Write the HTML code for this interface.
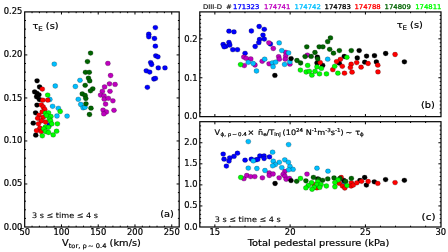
<!DOCTYPE html>
<html><head><meta charset="utf-8"><title>DIII-D confinement</title>
<style>
html,body{margin:0;padding:0;background:#fff;}
body{width:448px;height:252px;overflow:hidden;}
svg{display:block;font-family:"DejaVu Sans","Liberation Sans",sans-serif;}
</style></head><body>
<svg width="448" height="252" viewBox="0 0 448 252">
<rect width="448" height="252" fill="#fff"/>
<rect x="24.70" y="11.90" width="154.50" height="215.10" fill="none" stroke="#000" stroke-width="1.2"/>
<path d="M61.46 227.00v-2.60M61.46 11.90v2.60M98.22 227.00v-2.60M98.22 11.90v2.60M134.98 227.00v-2.60M134.98 11.90v2.60M171.74 227.00v-2.60M171.74 11.90v2.60M32.05 227.00v-1.30M32.05 11.90v1.30M39.40 227.00v-1.30M39.40 11.90v1.30M46.76 227.00v-1.30M46.76 11.90v1.30M54.11 227.00v-1.30M54.11 11.90v1.30M68.81 227.00v-1.30M68.81 11.90v1.30M76.16 227.00v-1.30M76.16 11.90v1.30M83.52 227.00v-1.30M83.52 11.90v1.30M90.87 227.00v-1.30M90.87 11.90v1.30M105.57 227.00v-1.30M105.57 11.90v1.30M112.92 227.00v-1.30M112.92 11.90v1.30M120.28 227.00v-1.30M120.28 11.90v1.30M127.63 227.00v-1.30M127.63 11.90v1.30M142.33 227.00v-1.30M142.33 11.90v1.30M149.68 227.00v-1.30M149.68 11.90v1.30M157.04 227.00v-1.30M157.04 11.90v1.30M164.39 227.00v-1.30M164.39 11.90v1.30M24.70 183.98h2.60M179.20 183.98h-2.60M24.70 140.96h2.60M179.20 140.96h-2.60M24.70 97.94h2.60M179.20 97.94h-2.60M24.70 54.92h2.60M179.20 54.92h-2.60M24.70 218.40h1.30M179.20 218.40h-1.30M24.70 209.79h1.30M179.20 209.79h-1.30M24.70 201.19h1.30M179.20 201.19h-1.30M24.70 192.58h1.30M179.20 192.58h-1.30M24.70 175.38h1.30M179.20 175.38h-1.30M24.70 166.77h1.30M179.20 166.77h-1.30M24.70 158.17h1.30M179.20 158.17h-1.30M24.70 149.56h1.30M179.20 149.56h-1.30M24.70 132.36h1.30M179.20 132.36h-1.30M24.70 123.75h1.30M179.20 123.75h-1.30M24.70 115.15h1.30M179.20 115.15h-1.30M24.70 106.54h1.30M179.20 106.54h-1.30M24.70 89.34h1.30M179.20 89.34h-1.30M24.70 80.73h1.30M179.20 80.73h-1.30M24.70 72.13h1.30M179.20 72.13h-1.30M24.70 63.52h1.30M179.20 63.52h-1.30M24.70 46.32h1.30M179.20 46.32h-1.30M24.70 37.71h1.30M179.20 37.71h-1.30M24.70 29.11h1.30M179.20 29.11h-1.30M24.70 20.50h1.30M179.20 20.50h-1.30" stroke="#000" stroke-width="1" fill="none"/>
<g fill="#0000ff" stroke="#000" stroke-opacity="0.75" stroke-width="0.3">
<ellipse cx="49.5" cy="124.8" rx="2.54" ry="2.40"/>
<ellipse cx="155.4" cy="27.6" rx="2.54" ry="2.40"/>
<ellipse cx="148.8" cy="34.2" rx="2.54" ry="2.40"/>
<ellipse cx="148.8" cy="36.8" rx="2.54" ry="2.40"/>
<ellipse cx="154.5" cy="38.5" rx="2.54" ry="2.40"/>
<ellipse cx="155.4" cy="46.2" rx="2.54" ry="2.40"/>
<ellipse cx="155.8" cy="55.8" rx="2.54" ry="2.40"/>
<ellipse cx="157.9" cy="56.8" rx="2.54" ry="2.40"/>
<ellipse cx="150.7" cy="62.6" rx="2.54" ry="2.40"/>
<ellipse cx="151.6" cy="64.5" rx="2.54" ry="2.40"/>
<ellipse cx="158.3" cy="67.9" rx="2.54" ry="2.40"/>
<ellipse cx="165.0" cy="67.9" rx="2.54" ry="2.40"/>
<ellipse cx="146.3" cy="70.8" rx="2.54" ry="2.40"/>
<ellipse cx="149.7" cy="72.1" rx="2.54" ry="2.40"/>
<ellipse cx="153.9" cy="79.0" rx="2.54" ry="2.40"/>
<ellipse cx="155.4" cy="78.4" rx="2.54" ry="2.40"/>
<ellipse cx="147.4" cy="87.3" rx="2.54" ry="2.40"/>
</g>
<g fill="#bf00bf" stroke="#000" stroke-opacity="0.75" stroke-width="0.3">
<ellipse cx="107.9" cy="63.4" rx="2.54" ry="2.40"/>
<ellipse cx="110.6" cy="75.5" rx="2.54" ry="2.40"/>
<ellipse cx="109.5" cy="83.8" rx="2.54" ry="2.40"/>
<ellipse cx="115.1" cy="84.4" rx="2.54" ry="2.40"/>
<ellipse cx="104.6" cy="86.9" rx="2.54" ry="2.40"/>
<ellipse cx="102.4" cy="91.3" rx="2.54" ry="2.40"/>
<ellipse cx="110.0" cy="91.3" rx="2.54" ry="2.40"/>
<ellipse cx="100.6" cy="95.1" rx="2.54" ry="2.40"/>
<ellipse cx="104.0" cy="95.8" rx="2.54" ry="2.40"/>
<ellipse cx="104.3" cy="99.2" rx="2.54" ry="2.40"/>
<ellipse cx="108.3" cy="98.3" rx="2.54" ry="2.40"/>
<ellipse cx="112.9" cy="100.8" rx="2.54" ry="2.40"/>
<ellipse cx="105.6" cy="104.1" rx="2.54" ry="2.40"/>
<ellipse cx="103.1" cy="110.1" rx="2.54" ry="2.40"/>
<ellipse cx="106.4" cy="112.0" rx="2.54" ry="2.40"/>
<ellipse cx="114.0" cy="110.3" rx="2.54" ry="2.40"/>
<ellipse cx="103.8" cy="113.9" rx="2.54" ry="2.40"/>
</g>
<g fill="#00bfff" stroke="#000" stroke-opacity="0.75" stroke-width="0.3">
<ellipse cx="54.3" cy="64.1" rx="2.54" ry="2.40"/>
<ellipse cx="55.3" cy="86.0" rx="2.54" ry="2.40"/>
<ellipse cx="49.9" cy="99.5" rx="2.54" ry="2.40"/>
<ellipse cx="52.6" cy="106.3" rx="2.54" ry="2.40"/>
<ellipse cx="58.4" cy="108.3" rx="2.54" ry="2.40"/>
<ellipse cx="57.0" cy="116.0" rx="2.54" ry="2.40"/>
<ellipse cx="67.1" cy="116.1" rx="2.54" ry="2.40"/>
<ellipse cx="75.4" cy="86.5" rx="2.54" ry="2.40"/>
<ellipse cx="80.0" cy="80.3" rx="2.54" ry="2.40"/>
<ellipse cx="78.3" cy="99.3" rx="2.54" ry="2.40"/>
<ellipse cx="80.8" cy="104.5" rx="2.54" ry="2.40"/>
<ellipse cx="83.1" cy="107.8" rx="2.54" ry="2.40"/>
<ellipse cx="85.0" cy="107.3" rx="2.54" ry="2.40"/>
</g>
<g fill="#000000" stroke="#000" stroke-opacity="0.75" stroke-width="0.3">
<ellipse cx="37.1" cy="80.8" rx="2.54" ry="2.40"/>
<ellipse cx="39.6" cy="87.0" rx="2.54" ry="2.40"/>
<ellipse cx="34.7" cy="91.9" rx="2.54" ry="2.40"/>
<ellipse cx="37.0" cy="93.3" rx="2.54" ry="2.40"/>
<ellipse cx="39.0" cy="94.8" rx="2.54" ry="2.40"/>
<ellipse cx="36.6" cy="96.8" rx="2.54" ry="2.40"/>
<ellipse cx="39.4" cy="99.5" rx="2.54" ry="2.40"/>
<ellipse cx="37.0" cy="105.1" rx="2.54" ry="2.40"/>
<ellipse cx="35.6" cy="112.8" rx="2.54" ry="2.40"/>
<ellipse cx="33.3" cy="123.2" rx="2.54" ry="2.40"/>
<ellipse cx="35.8" cy="135.2" rx="2.54" ry="2.40"/>
</g>
<g fill="#ff0000" stroke="#000" stroke-opacity="0.75" stroke-width="0.3">
<ellipse cx="42.3" cy="89.1" rx="2.54" ry="2.40"/>
<ellipse cx="42.8" cy="100.2" rx="2.54" ry="2.40"/>
<ellipse cx="47.8" cy="100.2" rx="2.54" ry="2.40"/>
<ellipse cx="41.3" cy="104.8" rx="2.54" ry="2.40"/>
<ellipse cx="43.2" cy="106.9" rx="2.54" ry="2.40"/>
<ellipse cx="44.7" cy="109.3" rx="2.54" ry="2.40"/>
<ellipse cx="42.3" cy="111.8" rx="2.54" ry="2.40"/>
<ellipse cx="39.0" cy="115.1" rx="2.54" ry="2.40"/>
<ellipse cx="43.2" cy="117.4" rx="2.54" ry="2.40"/>
<ellipse cx="37.7" cy="118.3" rx="2.54" ry="2.40"/>
<ellipse cx="41.3" cy="120.9" rx="2.54" ry="2.40"/>
<ellipse cx="45.6" cy="122.1" rx="2.54" ry="2.40"/>
<ellipse cx="38.5" cy="123.8" rx="2.54" ry="2.40"/>
<ellipse cx="39.9" cy="128.2" rx="2.54" ry="2.40"/>
<ellipse cx="36.6" cy="130.7" rx="2.54" ry="2.40"/>
<ellipse cx="41.3" cy="131.5" rx="2.54" ry="2.40"/>
</g>
<g fill="#006400" stroke="#000" stroke-opacity="0.75" stroke-width="0.3">
<ellipse cx="90.6" cy="53.1" rx="2.54" ry="2.40"/>
<ellipse cx="87.5" cy="61.6" rx="2.54" ry="2.40"/>
<ellipse cx="85.5" cy="72.3" rx="2.54" ry="2.40"/>
<ellipse cx="89.3" cy="72.3" rx="2.54" ry="2.40"/>
<ellipse cx="88.5" cy="78.1" rx="2.54" ry="2.40"/>
<ellipse cx="89.7" cy="80.9" rx="2.54" ry="2.40"/>
<ellipse cx="85.2" cy="85.3" rx="2.54" ry="2.40"/>
<ellipse cx="92.8" cy="88.8" rx="2.54" ry="2.40"/>
<ellipse cx="90.5" cy="90.8" rx="2.54" ry="2.40"/>
<ellipse cx="82.3" cy="93.9" rx="2.54" ry="2.40"/>
<ellipse cx="85.1" cy="95.5" rx="2.54" ry="2.40"/>
<ellipse cx="85.8" cy="98.5" rx="2.54" ry="2.40"/>
<ellipse cx="86.0" cy="103.8" rx="2.54" ry="2.40"/>
<ellipse cx="91.0" cy="108.2" rx="2.54" ry="2.40"/>
<ellipse cx="89.5" cy="114.5" rx="2.54" ry="2.40"/>
</g>
<g fill="#00ff00" stroke="#000" stroke-opacity="0.75" stroke-width="0.3">
<ellipse cx="47.7" cy="95.1" rx="2.54" ry="2.40"/>
<ellipse cx="60.2" cy="111.5" rx="2.54" ry="2.40"/>
<ellipse cx="45.6" cy="113.2" rx="2.54" ry="2.40"/>
<ellipse cx="48.5" cy="112.8" rx="2.54" ry="2.40"/>
<ellipse cx="46.6" cy="115.5" rx="2.54" ry="2.40"/>
<ellipse cx="50.9" cy="116.5" rx="2.54" ry="2.40"/>
<ellipse cx="49.4" cy="119.3" rx="2.54" ry="2.40"/>
<ellipse cx="50.6" cy="120.9" rx="2.54" ry="2.40"/>
<ellipse cx="51.8" cy="123.9" rx="2.54" ry="2.40"/>
<ellipse cx="57.4" cy="123.8" rx="2.54" ry="2.40"/>
<ellipse cx="45.6" cy="126.8" rx="2.54" ry="2.40"/>
<ellipse cx="48.5" cy="127.3" rx="2.54" ry="2.40"/>
<ellipse cx="43.7" cy="128.8" rx="2.54" ry="2.40"/>
<ellipse cx="56.6" cy="131.2" rx="2.54" ry="2.40"/>
<ellipse cx="45.6" cy="131.5" rx="2.54" ry="2.40"/>
<ellipse cx="48.5" cy="132.5" rx="2.54" ry="2.40"/>
<ellipse cx="53.2" cy="134.9" rx="2.54" ry="2.40"/>
<ellipse cx="42.3" cy="135.8" rx="2.54" ry="2.40"/>
</g>
<rect x="199.80" y="11.90" width="241.20" height="104.75" fill="none" stroke="#000" stroke-width="1.2"/>
<path d="M214.86 116.65v-2.60M214.86 11.90v2.60M290.14 116.65v-2.60M290.14 11.90v2.60M365.42 116.65v-2.60M365.42 11.90v2.60M229.91 116.65v-1.30M229.91 11.90v1.30M244.97 116.65v-1.30M244.97 11.90v1.30M260.02 116.65v-1.30M260.02 11.90v1.30M275.08 116.65v-1.30M275.08 11.90v1.30M305.19 116.65v-1.30M305.19 11.90v1.30M320.25 116.65v-1.30M320.25 11.90v1.30M335.30 116.65v-1.30M335.30 11.90v1.30M350.36 116.65v-1.30M350.36 11.90v1.30M380.47 116.65v-1.30M380.47 11.90v1.30M395.53 116.65v-1.30M395.53 11.90v1.30M410.58 116.65v-1.30M410.58 11.90v1.30M425.64 116.65v-1.30M425.64 11.90v1.30M199.80 77.75h2.60M441.00 77.75h-2.60M199.80 38.85h2.60M441.00 38.85h-2.60M199.80 112.76h1.30M441.00 112.76h-1.30M199.80 108.87h1.30M441.00 108.87h-1.30M199.80 104.98h1.30M441.00 104.98h-1.30M199.80 101.09h1.30M441.00 101.09h-1.30M199.80 97.20h1.30M441.00 97.20h-1.30M199.80 93.31h1.30M441.00 93.31h-1.30M199.80 89.42h1.30M441.00 89.42h-1.30M199.80 85.53h1.30M441.00 85.53h-1.30M199.80 81.64h1.30M441.00 81.64h-1.30M199.80 73.86h1.30M441.00 73.86h-1.30M199.80 69.97h1.30M441.00 69.97h-1.30M199.80 66.08h1.30M441.00 66.08h-1.30M199.80 62.19h1.30M441.00 62.19h-1.30M199.80 58.30h1.30M441.00 58.30h-1.30M199.80 54.41h1.30M441.00 54.41h-1.30M199.80 50.52h1.30M441.00 50.52h-1.30M199.80 46.63h1.30M441.00 46.63h-1.30M199.80 42.74h1.30M441.00 42.74h-1.30M199.80 34.96h1.30M441.00 34.96h-1.30M199.80 31.07h1.30M441.00 31.07h-1.30M199.80 27.18h1.30M441.00 27.18h-1.30M199.80 23.29h1.30M441.00 23.29h-1.30M199.80 19.40h1.30M441.00 19.40h-1.30M199.80 15.51h1.30M441.00 15.51h-1.30" stroke="#000" stroke-width="1" fill="none"/>
<g fill="#0000ff" stroke="#000" stroke-opacity="0.75" stroke-width="0.3">
<ellipse cx="229.0" cy="31.2" rx="2.54" ry="2.40"/>
<ellipse cx="234.0" cy="31.9" rx="2.54" ry="2.40"/>
<ellipse cx="251.4" cy="31.0" rx="2.54" ry="2.40"/>
<ellipse cx="229.0" cy="42.4" rx="2.54" ry="2.40"/>
<ellipse cx="223.2" cy="44.5" rx="2.54" ry="2.40"/>
<ellipse cx="229.8" cy="45.0" rx="2.54" ry="2.40"/>
<ellipse cx="226.0" cy="46.3" rx="2.54" ry="2.40"/>
<ellipse cx="224.1" cy="46.8" rx="2.54" ry="2.40"/>
<ellipse cx="232.8" cy="49.7" rx="2.54" ry="2.40"/>
<ellipse cx="237.5" cy="49.7" rx="2.54" ry="2.40"/>
<ellipse cx="255.2" cy="46.5" rx="2.54" ry="2.40"/>
<ellipse cx="245.1" cy="53.3" rx="2.54" ry="2.40"/>
<ellipse cx="259.2" cy="26.5" rx="2.54" ry="2.40"/>
<ellipse cx="264.3" cy="29.3" rx="2.54" ry="2.40"/>
<ellipse cx="263.0" cy="35.1" rx="2.54" ry="2.40"/>
<ellipse cx="259.6" cy="39.5" rx="2.54" ry="2.40"/>
<ellipse cx="264.3" cy="39.1" rx="2.54" ry="2.40"/>
<ellipse cx="258.8" cy="42.7" rx="2.54" ry="2.40"/>
<ellipse cx="270.4" cy="44.0" rx="2.54" ry="2.40"/>
</g>
<g fill="#bf00bf" stroke="#000" stroke-opacity="0.75" stroke-width="0.3">
<ellipse cx="268.9" cy="42.8" rx="2.54" ry="2.40"/>
<ellipse cx="273.3" cy="48.5" rx="2.54" ry="2.40"/>
<ellipse cx="243.8" cy="57.1" rx="2.54" ry="2.40"/>
<ellipse cx="246.3" cy="58.4" rx="2.54" ry="2.40"/>
<ellipse cx="250.8" cy="58.9" rx="2.54" ry="2.40"/>
<ellipse cx="244.3" cy="65.6" rx="2.54" ry="2.40"/>
<ellipse cx="255.0" cy="65.0" rx="2.54" ry="2.40"/>
<ellipse cx="285.7" cy="52.3" rx="2.54" ry="2.40"/>
<ellipse cx="278.7" cy="56.7" rx="2.54" ry="2.40"/>
<ellipse cx="279.3" cy="59.2" rx="2.54" ry="2.40"/>
<ellipse cx="285.7" cy="56.1" rx="2.54" ry="2.40"/>
<ellipse cx="285.3" cy="59.2" rx="2.54" ry="2.40"/>
<ellipse cx="262.2" cy="61.3" rx="2.54" ry="2.40"/>
<ellipse cx="269.1" cy="63.8" rx="2.54" ry="2.40"/>
<ellipse cx="289.9" cy="64.2" rx="2.54" ry="2.40"/>
<ellipse cx="307.4" cy="55.1" rx="2.54" ry="2.40"/>
</g>
<g fill="#00bfff" stroke="#000" stroke-opacity="0.75" stroke-width="0.3">
<ellipse cx="279.2" cy="42.9" rx="2.54" ry="2.40"/>
<ellipse cx="248.3" cy="62.3" rx="2.54" ry="2.40"/>
<ellipse cx="253.2" cy="63.5" rx="2.54" ry="2.40"/>
<ellipse cx="256.5" cy="71.0" rx="2.54" ry="2.40"/>
<ellipse cx="281.8" cy="50.6" rx="2.54" ry="2.40"/>
<ellipse cx="288.6" cy="52.9" rx="2.54" ry="2.40"/>
<ellipse cx="264.7" cy="59.2" rx="2.54" ry="2.40"/>
<ellipse cx="272.5" cy="62.8" rx="2.54" ry="2.40"/>
<ellipse cx="275.6" cy="62.2" rx="2.54" ry="2.40"/>
<ellipse cx="273.1" cy="66.7" rx="2.54" ry="2.40"/>
<ellipse cx="284.6" cy="64.4" rx="2.54" ry="2.40"/>
<ellipse cx="289.9" cy="61.9" rx="2.54" ry="2.40"/>
<ellipse cx="327.7" cy="59.2" rx="2.54" ry="2.40"/>
</g>
<g fill="#000000" stroke="#000" stroke-opacity="0.75" stroke-width="0.3">
<ellipse cx="291.1" cy="58.6" rx="2.54" ry="2.40"/>
<ellipse cx="274.9" cy="75.4" rx="2.54" ry="2.40"/>
<ellipse cx="317.4" cy="57.2" rx="2.54" ry="2.40"/>
<ellipse cx="317.0" cy="63.1" rx="2.54" ry="2.40"/>
<ellipse cx="322.7" cy="65.4" rx="2.54" ry="2.40"/>
<ellipse cx="339.3" cy="63.2" rx="2.54" ry="2.40"/>
<ellipse cx="344.3" cy="56.5" rx="2.54" ry="2.40"/>
<ellipse cx="359.2" cy="50.6" rx="2.54" ry="2.40"/>
<ellipse cx="385.7" cy="53.5" rx="2.54" ry="2.40"/>
<ellipse cx="366.6" cy="56.1" rx="2.54" ry="2.40"/>
<ellipse cx="374.5" cy="55.7" rx="2.54" ry="2.40"/>
<ellipse cx="357.3" cy="58.0" rx="2.54" ry="2.40"/>
<ellipse cx="364.8" cy="62.2" rx="2.54" ry="2.40"/>
<ellipse cx="376.4" cy="62.0" rx="2.54" ry="2.40"/>
<ellipse cx="404.4" cy="61.8" rx="2.54" ry="2.40"/>
</g>
<g fill="#ff0000" stroke="#000" stroke-opacity="0.75" stroke-width="0.3">
<ellipse cx="320.2" cy="62.6" rx="2.54" ry="2.40"/>
<ellipse cx="340.4" cy="59.3" rx="2.54" ry="2.40"/>
<ellipse cx="336.6" cy="61.6" rx="2.54" ry="2.40"/>
<ellipse cx="332.8" cy="69.7" rx="2.54" ry="2.40"/>
<ellipse cx="342.3" cy="66.3" rx="2.54" ry="2.40"/>
<ellipse cx="344.5" cy="73.2" rx="2.54" ry="2.40"/>
<ellipse cx="351.2" cy="64.2" rx="2.54" ry="2.40"/>
<ellipse cx="350.4" cy="67.6" rx="2.54" ry="2.40"/>
<ellipse cx="352.1" cy="72.2" rx="2.54" ry="2.40"/>
<ellipse cx="356.7" cy="62.6" rx="2.54" ry="2.40"/>
<ellipse cx="361.1" cy="67.2" rx="2.54" ry="2.40"/>
<ellipse cx="368.1" cy="63.5" rx="2.54" ry="2.40"/>
<ellipse cx="377.8" cy="65.2" rx="2.54" ry="2.40"/>
<ellipse cx="378.0" cy="71.9" rx="2.54" ry="2.40"/>
<ellipse cx="395.1" cy="54.5" rx="2.54" ry="2.40"/>
</g>
<g fill="#006400" stroke="#000" stroke-opacity="0.75" stroke-width="0.3">
<ellipse cx="330.5" cy="37.9" rx="2.54" ry="2.40"/>
<ellipse cx="327.7" cy="41.7" rx="2.54" ry="2.40"/>
<ellipse cx="306.8" cy="46.8" rx="2.54" ry="2.40"/>
<ellipse cx="319.2" cy="46.8" rx="2.54" ry="2.40"/>
<ellipse cx="322.9" cy="46.8" rx="2.54" ry="2.40"/>
<ellipse cx="329.7" cy="49.3" rx="2.54" ry="2.40"/>
<ellipse cx="333.5" cy="53.2" rx="2.54" ry="2.40"/>
<ellipse cx="339.4" cy="50.6" rx="2.54" ry="2.40"/>
<ellipse cx="351.3" cy="50.6" rx="2.54" ry="2.40"/>
<ellipse cx="315.0" cy="52.5" rx="2.54" ry="2.40"/>
<ellipse cx="311.2" cy="56.4" rx="2.54" ry="2.40"/>
<ellipse cx="305.1" cy="56.6" rx="2.54" ry="2.40"/>
<ellipse cx="317.7" cy="58.9" rx="2.54" ry="2.40"/>
<ellipse cx="297.0" cy="60.5" rx="2.54" ry="2.40"/>
<ellipse cx="300.6" cy="63.0" rx="2.54" ry="2.40"/>
</g>
<g fill="#00ff00" stroke="#000" stroke-opacity="0.75" stroke-width="0.3">
<ellipse cx="240.6" cy="64.6" rx="2.54" ry="2.40"/>
<ellipse cx="346.9" cy="57.3" rx="2.54" ry="2.40"/>
<ellipse cx="307.7" cy="65.4" rx="2.54" ry="2.40"/>
<ellipse cx="317.0" cy="66.9" rx="2.54" ry="2.40"/>
<ellipse cx="321.4" cy="68.4" rx="2.54" ry="2.40"/>
<ellipse cx="300.4" cy="70.1" rx="2.54" ry="2.40"/>
<ellipse cx="306.2" cy="72.0" rx="2.54" ry="2.40"/>
<ellipse cx="309.3" cy="71.3" rx="2.54" ry="2.40"/>
<ellipse cx="315.0" cy="71.3" rx="2.54" ry="2.40"/>
<ellipse cx="311.9" cy="75.2" rx="2.54" ry="2.40"/>
<ellipse cx="319.5" cy="73.9" rx="2.54" ry="2.40"/>
<ellipse cx="326.5" cy="73.9" rx="2.54" ry="2.40"/>
<ellipse cx="334.7" cy="66.3" rx="2.54" ry="2.40"/>
<ellipse cx="337.9" cy="73.2" rx="2.54" ry="2.40"/>
</g>
<rect x="199.80" y="121.70" width="241.20" height="105.30" fill="none" stroke="#000" stroke-width="1.2"/>
<path d="M214.86 227.00v-2.60M214.86 121.70v2.60M290.14 227.00v-2.60M290.14 121.70v2.60M365.42 227.00v-2.60M365.42 121.70v2.60M229.91 227.00v-1.30M229.91 121.70v1.30M244.97 227.00v-1.30M244.97 121.70v1.30M260.02 227.00v-1.30M260.02 121.70v1.30M275.08 227.00v-1.30M275.08 121.70v1.30M305.19 227.00v-1.30M305.19 121.70v1.30M320.25 227.00v-1.30M320.25 121.70v1.30M335.30 227.00v-1.30M335.30 121.70v1.30M350.36 227.00v-1.30M350.36 121.70v1.30M380.47 227.00v-1.30M380.47 121.70v1.30M395.53 227.00v-1.30M395.53 121.70v1.30M410.58 227.00v-1.30M410.58 121.70v1.30M425.64 227.00v-1.30M425.64 121.70v1.30M199.80 205.94h2.60M441.00 205.94h-2.60M199.80 184.88h2.60M441.00 184.88h-2.60M199.80 163.82h2.60M441.00 163.82h-2.60M199.80 142.76h2.60M441.00 142.76h-2.60M199.80 222.79h1.30M441.00 222.79h-1.30M199.80 218.58h1.30M441.00 218.58h-1.30M199.80 214.36h1.30M441.00 214.36h-1.30M199.80 210.15h1.30M441.00 210.15h-1.30M199.80 201.73h1.30M441.00 201.73h-1.30M199.80 197.52h1.30M441.00 197.52h-1.30M199.80 193.30h1.30M441.00 193.30h-1.30M199.80 189.09h1.30M441.00 189.09h-1.30M199.80 180.67h1.30M441.00 180.67h-1.30M199.80 176.46h1.30M441.00 176.46h-1.30M199.80 172.24h1.30M441.00 172.24h-1.30M199.80 168.03h1.30M441.00 168.03h-1.30M199.80 159.61h1.30M441.00 159.61h-1.30M199.80 155.40h1.30M441.00 155.40h-1.30M199.80 151.18h1.30M441.00 151.18h-1.30M199.80 146.97h1.30M441.00 146.97h-1.30M199.80 138.55h1.30M441.00 138.55h-1.30M199.80 134.34h1.30M441.00 134.34h-1.30M199.80 130.12h1.30M441.00 130.12h-1.30M199.80 125.91h1.30M441.00 125.91h-1.30" stroke="#000" stroke-width="1" fill="none"/>
<g fill="#0000ff" stroke="#000" stroke-opacity="0.75" stroke-width="0.3">
<ellipse cx="223.2" cy="154.1" rx="2.54" ry="2.40"/>
<ellipse cx="237.5" cy="153.2" rx="2.54" ry="2.40"/>
<ellipse cx="234.0" cy="156.4" rx="2.54" ry="2.40"/>
<ellipse cx="229.8" cy="157.9" rx="2.54" ry="2.40"/>
<ellipse cx="224.1" cy="159.2" rx="2.54" ry="2.40"/>
<ellipse cx="229.0" cy="161.1" rx="2.54" ry="2.40"/>
<ellipse cx="226.4" cy="166.1" rx="2.54" ry="2.40"/>
<ellipse cx="245.1" cy="160.2" rx="2.54" ry="2.40"/>
<ellipse cx="251.4" cy="159.2" rx="2.54" ry="2.40"/>
<ellipse cx="255.9" cy="159.8" rx="2.54" ry="2.40"/>
<ellipse cx="259.9" cy="156.0" rx="2.54" ry="2.40"/>
<ellipse cx="264.1" cy="156.0" rx="2.54" ry="2.40"/>
<ellipse cx="269.5" cy="156.9" rx="2.54" ry="2.40"/>
<ellipse cx="264.1" cy="158.5" rx="2.54" ry="2.40"/>
<ellipse cx="257.7" cy="159.4" rx="2.54" ry="2.40"/>
</g>
<g fill="#bf00bf" stroke="#000" stroke-opacity="0.75" stroke-width="0.3">
<ellipse cx="243.9" cy="178.7" rx="2.54" ry="2.40"/>
<ellipse cx="246.8" cy="175.5" rx="2.54" ry="2.40"/>
<ellipse cx="250.6" cy="176.6" rx="2.54" ry="2.40"/>
<ellipse cx="254.8" cy="176.6" rx="2.54" ry="2.40"/>
<ellipse cx="262.4" cy="177.8" rx="2.54" ry="2.40"/>
<ellipse cx="269.3" cy="173.0" rx="2.54" ry="2.40"/>
<ellipse cx="269.3" cy="175.5" rx="2.54" ry="2.40"/>
<ellipse cx="273.1" cy="174.0" rx="2.54" ry="2.40"/>
<ellipse cx="284.9" cy="171.5" rx="2.54" ry="2.40"/>
<ellipse cx="283.2" cy="174.3" rx="2.54" ry="2.40"/>
<ellipse cx="279.2" cy="177.8" rx="2.54" ry="2.40"/>
<ellipse cx="284.9" cy="176.2" rx="2.54" ry="2.40"/>
<ellipse cx="286.2" cy="179.3" rx="2.54" ry="2.40"/>
<ellipse cx="289.4" cy="178.5" rx="2.54" ry="2.40"/>
<ellipse cx="307.0" cy="174.1" rx="2.54" ry="2.40"/>
</g>
<g fill="#00bfff" stroke="#000" stroke-opacity="0.75" stroke-width="0.3">
<ellipse cx="248.3" cy="141.6" rx="2.54" ry="2.40"/>
<ellipse cx="253.3" cy="160.9" rx="2.54" ry="2.40"/>
<ellipse cx="248.3" cy="168.1" rx="2.54" ry="2.40"/>
<ellipse cx="288.6" cy="144.6" rx="2.54" ry="2.40"/>
<ellipse cx="272.6" cy="152.2" rx="2.54" ry="2.40"/>
<ellipse cx="273.3" cy="161.2" rx="2.54" ry="2.40"/>
<ellipse cx="279.3" cy="162.3" rx="2.54" ry="2.40"/>
<ellipse cx="284.8" cy="159.8" rx="2.54" ry="2.40"/>
<ellipse cx="288.4" cy="162.3" rx="2.54" ry="2.40"/>
<ellipse cx="275.3" cy="164.6" rx="2.54" ry="2.40"/>
<ellipse cx="272.7" cy="165.8" rx="2.54" ry="2.40"/>
<ellipse cx="281.8" cy="167.6" rx="2.54" ry="2.40"/>
<ellipse cx="290.0" cy="166.5" rx="2.54" ry="2.40"/>
<ellipse cx="256.9" cy="168.5" rx="2.54" ry="2.40"/>
<ellipse cx="265.0" cy="170.5" rx="2.54" ry="2.40"/>
<ellipse cx="293.1" cy="169.4" rx="2.54" ry="2.40"/>
<ellipse cx="288.7" cy="169.8" rx="2.54" ry="2.40"/>
<ellipse cx="317.0" cy="168.2" rx="2.54" ry="2.40"/>
<ellipse cx="328.0" cy="171.2" rx="2.54" ry="2.40"/>
<ellipse cx="343.8" cy="184.1" rx="2.54" ry="2.40"/>
</g>
<g fill="#000000" stroke="#000" stroke-opacity="0.75" stroke-width="0.3">
<ellipse cx="275.1" cy="183.5" rx="2.54" ry="2.40"/>
<ellipse cx="291.0" cy="180.6" rx="2.54" ry="2.40"/>
<ellipse cx="317.8" cy="178.9" rx="2.54" ry="2.40"/>
<ellipse cx="343.8" cy="180.5" rx="2.54" ry="2.40"/>
<ellipse cx="364.7" cy="177.5" rx="2.54" ry="2.40"/>
<ellipse cx="360.0" cy="180.5" rx="2.54" ry="2.40"/>
<ellipse cx="366.4" cy="185.1" rx="2.54" ry="2.40"/>
<ellipse cx="374.3" cy="181.8" rx="2.54" ry="2.40"/>
<ellipse cx="385.6" cy="179.6" rx="2.54" ry="2.40"/>
<ellipse cx="404.4" cy="180.3" rx="2.54" ry="2.40"/>
</g>
<g fill="#ff0000" stroke="#000" stroke-opacity="0.75" stroke-width="0.3">
<ellipse cx="314.0" cy="184.6" rx="2.54" ry="2.40"/>
<ellipse cx="316.9" cy="187.9" rx="2.54" ry="2.40"/>
<ellipse cx="341.2" cy="177.5" rx="2.54" ry="2.40"/>
<ellipse cx="339.3" cy="183.4" rx="2.54" ry="2.40"/>
<ellipse cx="342.5" cy="186.0" rx="2.54" ry="2.40"/>
<ellipse cx="344.8" cy="188.1" rx="2.54" ry="2.40"/>
<ellipse cx="351.4" cy="182.8" rx="2.54" ry="2.40"/>
<ellipse cx="351.1" cy="186.0" rx="2.54" ry="2.40"/>
<ellipse cx="353.3" cy="185.1" rx="2.54" ry="2.40"/>
<ellipse cx="356.9" cy="182.8" rx="2.54" ry="2.40"/>
<ellipse cx="361.6" cy="181.3" rx="2.54" ry="2.40"/>
<ellipse cx="368.2" cy="181.5" rx="2.54" ry="2.40"/>
<ellipse cx="377.8" cy="183.4" rx="2.54" ry="2.40"/>
<ellipse cx="395.1" cy="182.6" rx="2.54" ry="2.40"/>
</g>
<g fill="#006400" stroke="#000" stroke-opacity="0.75" stroke-width="0.3">
<ellipse cx="296.7" cy="181.3" rx="2.54" ry="2.40"/>
<ellipse cx="305.9" cy="180.8" rx="2.54" ry="2.40"/>
<ellipse cx="313.5" cy="177.4" rx="2.54" ry="2.40"/>
<ellipse cx="318.8" cy="179.3" rx="2.54" ry="2.40"/>
<ellipse cx="322.6" cy="180.3" rx="2.54" ry="2.40"/>
<ellipse cx="327.8" cy="178.9" rx="2.54" ry="2.40"/>
<ellipse cx="334.1" cy="178.0" rx="2.54" ry="2.40"/>
<ellipse cx="340.0" cy="178.4" rx="2.54" ry="2.40"/>
<ellipse cx="351.4" cy="178.4" rx="2.54" ry="2.40"/>
<ellipse cx="345.7" cy="181.5" rx="2.54" ry="2.40"/>
</g>
<g fill="#00ff00" stroke="#000" stroke-opacity="0.75" stroke-width="0.3">
<ellipse cx="240.8" cy="177.4" rx="2.54" ry="2.40"/>
<ellipse cx="300.5" cy="178.4" rx="2.54" ry="2.40"/>
<ellipse cx="311.6" cy="182.7" rx="2.54" ry="2.40"/>
<ellipse cx="317.8" cy="181.7" rx="2.54" ry="2.40"/>
<ellipse cx="316.9" cy="184.6" rx="2.54" ry="2.40"/>
<ellipse cx="321.1" cy="184.6" rx="2.54" ry="2.40"/>
<ellipse cx="308.3" cy="185.5" rx="2.54" ry="2.40"/>
<ellipse cx="305.9" cy="187.9" rx="2.54" ry="2.40"/>
<ellipse cx="314.0" cy="187.4" rx="2.54" ry="2.40"/>
<ellipse cx="312.1" cy="189.3" rx="2.54" ry="2.40"/>
<ellipse cx="319.7" cy="187.4" rx="2.54" ry="2.40"/>
<ellipse cx="326.4" cy="186.0" rx="2.54" ry="2.40"/>
<ellipse cx="338.1" cy="180.0" rx="2.54" ry="2.40"/>
<ellipse cx="334.9" cy="182.6" rx="2.54" ry="2.40"/>
<ellipse cx="334.9" cy="186.8" rx="2.54" ry="2.40"/>
<ellipse cx="347.0" cy="185.6" rx="2.54" ry="2.40"/>
</g>
<text id="ly0" transform="translate(22.40 229.55) scale(1.0670 1)" font-size="7.85" text-anchor="end" fill="#000" stroke="#000" stroke-width="0.20">0.00</text>
<text id="ly5" transform="translate(22.40 185.98) scale(1.0670 1)" font-size="7.85" text-anchor="end" fill="#000" stroke="#000" stroke-width="0.20">0.05</text>
<text id="ly10" transform="translate(22.40 143.41) scale(1.0670 1)" font-size="7.85" text-anchor="end" fill="#000" stroke="#000" stroke-width="0.20">0.10</text>
<text id="ly15" transform="translate(22.40 100.64) scale(1.0670 1)" font-size="7.85" text-anchor="end" fill="#000" stroke="#000" stroke-width="0.20">0.15</text>
<text id="ly20" transform="translate(22.40 56.87) scale(1.0670 1)" font-size="7.85" text-anchor="end" fill="#000" stroke="#000" stroke-width="0.20">0.20</text>
<text id="ly25" transform="translate(22.40 14.40) scale(1.0670 1)" font-size="7.85" text-anchor="end" fill="#000" stroke="#000" stroke-width="0.20">0.25</text>
<text id="lx50" transform="translate(24.70 235.40) scale(1.0670 1)" font-size="7.85" text-anchor="middle" fill="#000" stroke="#000" stroke-width="0.20">50</text>
<text id="lx100" transform="translate(61.46 235.40) scale(1.0670 1)" font-size="7.85" text-anchor="middle" fill="#000" stroke="#000" stroke-width="0.20">100</text>
<text id="lx150" transform="translate(98.22 235.40) scale(1.0670 1)" font-size="7.85" text-anchor="middle" fill="#000" stroke="#000" stroke-width="0.20">150</text>
<text id="lx200" transform="translate(134.98 235.40) scale(1.0670 1)" font-size="7.85" text-anchor="middle" fill="#000" stroke="#000" stroke-width="0.20">200</text>
<text id="lx250" transform="translate(171.74 235.40) scale(1.0670 1)" font-size="7.85" text-anchor="middle" fill="#000" stroke="#000" stroke-width="0.20">250</text>
<text id="ty0" transform="translate(197.60 119.05) scale(1.0670 1)" font-size="7.85" text-anchor="end" fill="#000" stroke="#000" stroke-width="0.20">0.0</text>
<text id="ty1" transform="translate(197.60 80.65) scale(1.0670 1)" font-size="7.85" text-anchor="end" fill="#000" stroke="#000" stroke-width="0.20">0.1</text>
<text id="ty2" transform="translate(197.60 41.75) scale(1.0670 1)" font-size="7.85" text-anchor="end" fill="#000" stroke="#000" stroke-width="0.20">0.2</text>
<text id="by0" transform="translate(197.60 229.50) scale(1.0670 1)" font-size="7.85" text-anchor="end" fill="#000" stroke="#000" stroke-width="0.20">0.0</text>
<text id="by5" transform="translate(197.60 208.44) scale(1.0670 1)" font-size="7.85" text-anchor="end" fill="#000" stroke="#000" stroke-width="0.20">0.5</text>
<text id="by10" transform="translate(197.60 187.38) scale(1.0670 1)" font-size="7.85" text-anchor="end" fill="#000" stroke="#000" stroke-width="0.20">1.0</text>
<text id="by15" transform="translate(197.60 166.32) scale(1.0670 1)" font-size="7.85" text-anchor="end" fill="#000" stroke="#000" stroke-width="0.20">1.5</text>
<text id="by20" transform="translate(197.60 145.26) scale(1.0670 1)" font-size="7.85" text-anchor="end" fill="#000" stroke="#000" stroke-width="0.20">2.0</text>
<text id="rx15" transform="translate(214.86 235.40) scale(1.0670 1)" font-size="7.85" text-anchor="middle" fill="#000" stroke="#000" stroke-width="0.20">15</text>
<text id="rx20" transform="translate(290.14 235.40) scale(1.0670 1)" font-size="7.85" text-anchor="middle" fill="#000" stroke="#000" stroke-width="0.20">20</text>
<text id="rx25" transform="translate(365.42 235.40) scale(1.0670 1)" font-size="7.85" text-anchor="middle" fill="#000" stroke="#000" stroke-width="0.20">25</text>
<text id="rx30" transform="translate(440.70 235.40) scale(1.0670 1)" font-size="7.85" text-anchor="middle" fill="#000" stroke="#000" stroke-width="0.20">30</text>
<text id="xl1" transform="translate(62.00 246.00) scale(1.0670 1)" font-size="9.20" text-anchor="start" fill="#000" stroke="#000" stroke-width="0.20">V<tspan font-size="6.3" dy="1.6">tor, ρ ~ 0.4</tspan><tspan dy="-1.6"> (km/s)</tspan></text>
<text id="xl2" transform="translate(247.75 245.75) scale(1.0670 1)" font-size="9.20" text-anchor="start" fill="#000" stroke="#000" stroke-width="0.20">Total pedestal pressure (kPa)</text>
<text id="tau1" transform="translate(32.40 28.80) scale(1.0670 1)" font-size="9.20" text-anchor="start" fill="#000" stroke="#000" stroke-width="0.20">τ<tspan font-size="6.5" dy="2">E</tspan><tspan dy="-2"> (s)</tspan></text>
<text id="tau2" transform="translate(396.70 27.60) scale(1.0670 1)" font-size="9.20" text-anchor="start" fill="#000" stroke="#000" stroke-width="0.20">τ<tspan font-size="6.5" dy="2">E</tspan><tspan dy="-2"> (s)</tspan></text>
<text id="time1" transform="translate(32.00 218.10) scale(1.0670 1)" font-size="7.60" text-anchor="start" fill="#000" stroke="#000" stroke-width="0.10">3 s ≤ time ≤ 4 s</text>
<text id="time2" transform="translate(214.75 222.10) scale(1.0670 1)" font-size="7.60" text-anchor="start" fill="#000" stroke="#000" stroke-width="0.10">3 s ≤ time ≤ 4 s</text>
<text id="pa" transform="translate(160.20 216.70) scale(1.0670 1)" font-size="9.20" text-anchor="start" fill="#000" stroke="#000" stroke-width="0.20">(a)</text>
<text id="pb" transform="translate(421.00 107.80) scale(1.0670 1)" font-size="9.20" text-anchor="start" fill="#000" stroke="#000" stroke-width="0.20">(b)</text>
<text id="pc" transform="translate(421.60 219.80) scale(1.1400 1)" font-size="9.20" text-anchor="start" fill="#000" stroke="#000" stroke-width="0.20">(c)</text>
<text id="f1" transform="translate(214.60 134.50) scale(1.0670 1)" font-size="7.60" text-anchor="start" fill="#000" stroke="#000" stroke-width="0.20">V</text>
<text id="f2" transform="translate(220.50 135.90) scale(1.0670 1)" font-size="7.60" text-anchor="start" fill="#000" stroke="#000" stroke-width="0.20"><tspan font-size="5.2">ϕ, ρ ~ 0.4</tspan></text>
<text id="f3" transform="translate(251.00 134.50) scale(1.0670 1)" font-size="7.60" text-anchor="middle" fill="#000" stroke="#000" stroke-width="0.20">×</text>
<text id="f4" transform="translate(258.00 134.50) scale(1.0670 1)" font-size="7.60" text-anchor="start" fill="#000" stroke="#000" stroke-width="0.20">n̄<tspan font-size="5.2" dy="1.4">e</tspan><tspan dy="-1.4">/T</tspan><tspan font-size="5.2" dy="1.4">inj</tspan></text>
<text id="f5" transform="translate(282.60 134.50) scale(1.0670 1)" font-size="7.60" text-anchor="start" fill="#000" stroke="#000" stroke-width="0.20">(10<tspan font-size="5.2" dy="-3">24</tspan><tspan dy="3"> N</tspan><tspan font-size="5.2" dy="-3">-1</tspan><tspan dy="3">m</tspan><tspan font-size="5.2" dy="-3">-3</tspan><tspan dy="3">s</tspan><tspan font-size="5.2" dy="-3">-1</tspan><tspan dy="3">)</tspan></text>
<text id="f6" transform="translate(348.90 134.50) scale(1.0670 1)" font-size="7.60" text-anchor="middle" fill="#000" stroke="#000" stroke-width="0.20">~</text>
<text id="f7" transform="translate(355.20 134.50) scale(1.0670 1)" font-size="7.60" text-anchor="start" fill="#000" stroke="#000" stroke-width="0.20">τ<tspan font-size="5.2" dy="1.4">ϕ</tspan></text>
<text id="t0" transform="translate(202.90 9.45) scale(1.0670 1)" font-size="6.45" text-anchor="start" fill="#000" stroke="#000" stroke-width="0.12">DIII-D</text>
<text id="t0b" transform="translate(225.90 9.45) scale(1.0670 1)" font-size="6.45" text-anchor="start" fill="#000" stroke="#000" stroke-width="0.12">#</text>
<text id="t1" transform="translate(233.10 9.45) scale(1.0670 1)" font-size="6.45" text-anchor="start" fill="#0000ff" stroke="#0000ff" stroke-width="0.30">171323</text>
<text id="t2" transform="translate(264.10 9.45) scale(1.0670 1)" font-size="6.45" text-anchor="start" fill="#bf00bf" stroke="#bf00bf" stroke-width="0.30">174741</text>
<text id="t3" transform="translate(294.60 9.45) scale(1.0670 1)" font-size="6.45" text-anchor="start" fill="#00bfff" stroke="#00bfff" stroke-width="0.30">174742</text>
<text id="t4" transform="translate(324.60 9.45) scale(1.0670 1)" font-size="6.45" text-anchor="start" fill="#000000" stroke="#000000" stroke-width="0.30">174783</text>
<text id="t5" transform="translate(354.40 9.45) scale(1.0670 1)" font-size="6.45" text-anchor="start" fill="#ff0000" stroke="#ff0000" stroke-width="0.30">174788</text>
<text id="t6" transform="translate(384.60 9.45) scale(1.0670 1)" font-size="6.45" text-anchor="start" fill="#006400" stroke="#006400" stroke-width="0.30">174809</text>
<text id="t7" transform="translate(415.20 9.45) scale(1.0670 1)" font-size="6.45" text-anchor="start" fill="#00ff00" stroke="#00ff00" stroke-width="0.30">174811</text>
</svg>
</body></html>
